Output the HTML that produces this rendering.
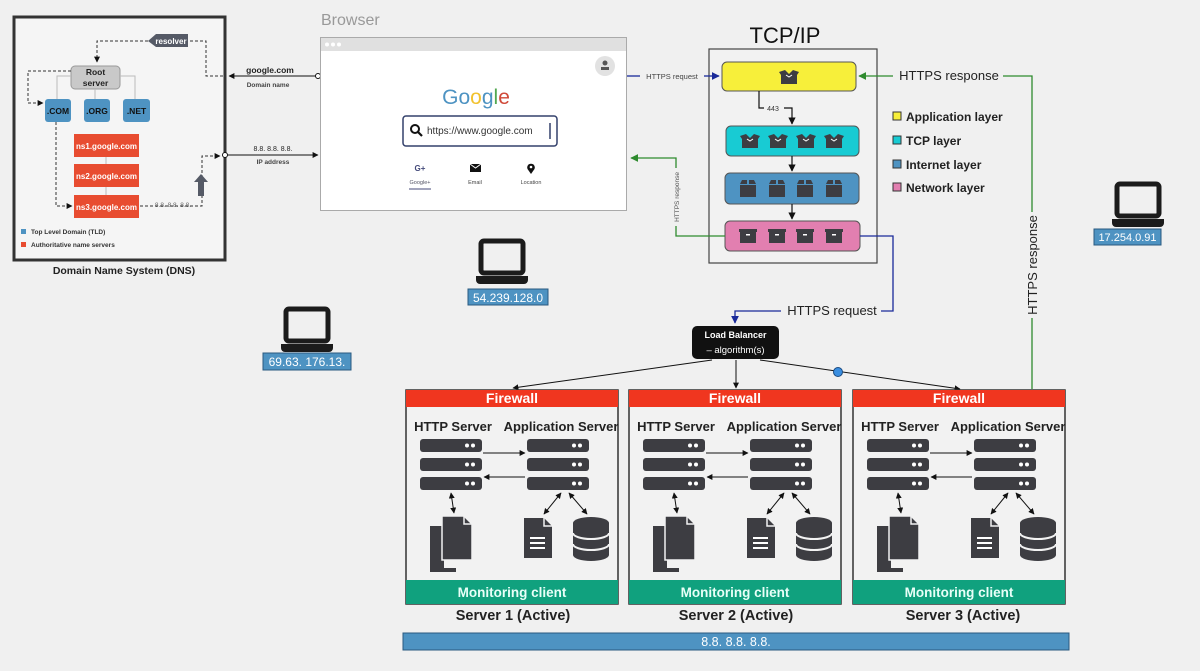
<!DOCTYPE html>
<html><head><meta charset="utf-8"><style>
html,body{margin:0;padding:0;background:#f0f0f0;}
svg{display:block;font-family:"Liberation Sans","DejaVu Sans",sans-serif;}
.b{font-weight:bold}
</style></head><body>
<svg width="1200" height="671" viewBox="0 0 1200 671" xmlns="http://www.w3.org/2000/svg">
<defs>
<marker id="ak" viewBox="0 0 10 10" refX="9" refY="5" markerWidth="6" markerHeight="6" orient="auto-start-reverse"><path d="M0,0L10,5L0,10z" fill="#111"/></marker>
<marker id="ab" viewBox="0 0 10 10" refX="9" refY="5" markerWidth="6" markerHeight="6" orient="auto"><path d="M0,0L10,5L0,10z" fill="#1a2a9a"/></marker>
<marker id="ag" viewBox="0 0 10 10" refX="9" refY="5" markerWidth="6" markerHeight="6" orient="auto"><path d="M0,0L10,5L0,10z" fill="#2e8b2e"/></marker>
<g id="rack">
<rect x="0" y="0" width="62" height="13" rx="3" fill="#3d3d42"/>
<rect x="0" y="19" width="62" height="13" rx="3" fill="#3d3d42"/>
<rect x="0" y="38" width="62" height="13" rx="3" fill="#3d3d42"/>
<circle cx="47" cy="6.5" r="2" fill="#fff"/><circle cx="53" cy="6.5" r="2" fill="#fff"/>
<circle cx="47" cy="25.5" r="2" fill="#fff"/><circle cx="53" cy="25.5" r="2" fill="#fff"/>
<circle cx="47" cy="44.5" r="2" fill="#fff"/><circle cx="53" cy="44.5" r="2" fill="#fff"/>
</g>
<g id="srv">
<rect x="0" y="0" width="212" height="214" fill="#f2f2f2" stroke="#333" stroke-width="1.5"/>
<rect x="0" y="0" width="212" height="17" fill="#f0361f"/>
<text x="106" y="13" font-size="14" class="b" fill="#fff" text-anchor="middle">Firewall</text>
<rect x="0" y="190" width="212" height="24" fill="#10a17e"/>
<text x="106" y="207" font-size="13.5" class="b" fill="#e8fff8" text-anchor="middle">Monitoring client</text>
<text x="47" y="41" font-size="13" class="b" fill="#222" text-anchor="middle">HTTP Server</text>
<text x="155" y="41" font-size="13" class="b" fill="#222" text-anchor="middle">Application Server</text>
<use href="#rack" x="14" y="49"/>
<use href="#rack" x="121" y="49"/>
<line x1="77" y1="63" x2="119" y2="63" stroke="#111" marker-end="url(#ak)"/>
<line x1="119" y1="87" x2="78" y2="87" stroke="#111" marker-end="url(#ak)"/>
<line x1="45" y1="103" x2="48" y2="123" stroke="#111" marker-start="url(#ak)" marker-end="url(#ak)"/>
<line x1="155" y1="103" x2="138" y2="124" stroke="#111" marker-start="url(#ak)" marker-end="url(#ak)"/>
<line x1="163" y1="103" x2="181" y2="124" stroke="#111" marker-start="url(#ak)" marker-end="url(#ak)"/>
<path d="M24,136h14v42h12v4h-26z" fill="#3d3d42"/>
<path d="M36,126h22l8,8v36h-30z" fill="#3d3d42" stroke="#f2f2f2" stroke-width="1.5"/>
<path d="M58,126v8h8" fill="none" stroke="#f2f2f2" stroke-width="1.5"/>
<path d="M118,128h20l8,8v32h-28z" fill="#3d3d42"/>
<path d="M138,128v8h8" fill="none" stroke="#f2f2f2" stroke-width="1.5"/>
<rect x="124" y="147" width="15" height="2" fill="#fff"/><rect x="124" y="152" width="15" height="2" fill="#fff"/><rect x="124" y="157" width="15" height="2" fill="#fff"/>
<ellipse cx="185" cy="133" rx="18" ry="6" fill="#3d3d42"/>
<rect x="167" y="133" width="36" height="32" fill="#3d3d42"/>
<ellipse cx="185" cy="165" rx="18" ry="6" fill="#3d3d42"/>
<path d="M167,143a18,6 0 0 0 36,0M167,154a18,6 0 0 0 36,0" fill="none" stroke="#f2f2f2" stroke-width="2"/>
</g>
<g id="lap">
<rect x="3" y="0" width="42" height="32" rx="3" fill="none" stroke="#1b1b1b" stroke-width="5"/>
<path d="M-2,35h52v4a4,4 0 0 1 -4,4h-44a4,4 0 0 1 -4,-4z" fill="#1b1b1b"/>
</g>
<g id="box"><path d="M0,3h16v11h-16z" fill="#3d3d42"/><rect x="-1" y="0" width="18" height="3" fill="#3d3d42"/><rect x="6" y="5" width="4" height="1.5" fill="#fff"/></g>
<g id="pk"><path d="M0,4h7v-4h-5zM9,4v-4h5l2,4zM0,5h16v12h-16z" fill="#3d3d42"/></g>
<g id="op"><path d="M0,6h16v9h-16z" fill="#3d3d42"/><path d="M0,6l-2,-3l6,-2l4,4l4,-4l6,2l-2,3z" fill="#3d3d42"/><path d="M5,6l3,2l3,-2" stroke="#fff" fill="none"/></g>
</defs>

<rect x="14" y="17" width="211" height="243" fill="#f5f5f5" stroke="#333" stroke-width="3"/>
<rect x="71" y="66" width="49" height="23" rx="4" fill="#c9c9c9" stroke="#999"/>
<text x="95.5" y="75" font-size="8.5" class="b" text-anchor="middle" fill="#222">Root</text>
<text x="95.5" y="86" font-size="8.5" class="b" text-anchor="middle" fill="#222">server</text>
<path d="M71,76H57V99M120,76H135V99M95,89V99" fill="none" stroke="#bbb"/>
<rect x="45" y="99" width="26" height="23" rx="3" fill="#4e93c2"/>
<rect x="84" y="99" width="26" height="23" rx="3" fill="#4e93c2"/>
<rect x="123" y="99" width="27" height="23" rx="3" fill="#4e93c2"/>
<text x="58" y="114" font-size="8.5" class="b" text-anchor="middle" fill="#111">.COM</text>
<text x="97" y="114" font-size="8.5" class="b" text-anchor="middle" fill="#111">.ORG</text>
<text x="136.5" y="114" font-size="8.5" class="b" text-anchor="middle" fill="#111">.NET</text>
<line x1="106" y1="157" x2="106" y2="195" stroke="#bbb"/>
<rect x="74" y="134" width="65" height="23" fill="#e84c30"/>
<rect x="74" y="164" width="65" height="23" fill="#e84c30"/>
<rect x="74" y="195" width="65" height="23" fill="#e84c30"/>
<text x="106.5" y="149" font-size="8" class="b" text-anchor="middle" fill="#fff">ns1.google.com</text>
<text x="106.5" y="179" font-size="8" class="b" text-anchor="middle" fill="#fff">ns2.google.com</text>
<text x="106.5" y="210" font-size="8" class="b" text-anchor="middle" fill="#fff">ns3.google.com</text>
<path d="M148,41l8,-7h32v13h-32z" fill="#555a66"/>
<text x="171" y="44" font-size="8" class="b" fill="#fff" text-anchor="middle">resolver</text>
<g fill="none" stroke="#333" stroke-dasharray="3,2" stroke-width="1">
<path d="M190,41H206V76H225"/>
<path d="M148,41H97V62" marker-end="url(#ak)"/>
<path d="M71,71H28V103H43" marker-end="url(#ak)"/>
<path d="M56,122V206H72" marker-end="url(#ak)"/>
<path d="M140,206H202V156H220" marker-end="url(#ak)"/>
</g>
<text x="173" y="207" font-size="6.5" fill="#666" text-anchor="middle">8.8. 8.8. 8.8.</text>
<path d="M198,196V182h-4l7,-8l7,8h-4v14z" fill="#555a66"/>
<rect x="21" y="229" width="5" height="5" fill="#4e93c2"/>
<text x="31" y="234" font-size="6.5" class="b" fill="#333">Top Level Domain (TLD)</text>
<rect x="21" y="242" width="5" height="5" fill="#e84c30"/>
<text x="31" y="247" font-size="6.5" class="b" fill="#333">Authoritative name servers</text>
<text x="124" y="274" font-size="10.5" class="b" fill="#222" text-anchor="middle">Domain Name System (DNS)</text>

<line x1="317" y1="76" x2="229" y2="76" stroke="#111" marker-end="url(#ak)"/>
<circle cx="318" cy="76" r="2.5" fill="#fff" stroke="#111"/>
<text x="270" y="73" font-size="8.5" class="b" fill="#222" text-anchor="middle">google.com</text>
<text x="268" y="87" font-size="6.5" class="b" fill="#444" text-anchor="middle">Domain name</text>
<line x1="226" y1="155" x2="318" y2="155" stroke="#111" marker-end="url(#ak)"/>
<circle cx="225" cy="155" r="2.5" fill="#fff" stroke="#111"/>
<text x="273" y="151" font-size="7" fill="#222" text-anchor="middle">8.8. 8.8. 8.8.</text>
<text x="273" y="164" font-size="6.5" class="b" fill="#444" text-anchor="middle">IP address</text>

<text x="321" y="25" font-size="16" fill="#999">Browser</text>
<rect x="320.5" y="37.5" width="306" height="173" fill="#fff" stroke="#aaa"/>
<rect x="321" y="38" width="305" height="13" fill="#e0e0e0"/>
<circle cx="327" cy="44.5" r="2" fill="#fff"/><circle cx="333" cy="44.5" r="2" fill="#fff"/><circle cx="339" cy="44.5" r="2" fill="#fff"/>
<circle cx="605" cy="66" r="10" fill="#e2e2e2"/>
<circle cx="605" cy="63" r="2.5" fill="#555"/><rect x="601" y="67" width="8" height="3" fill="#555"/>
<text x="476" y="104" font-size="21" text-anchor="middle"><tspan fill="#4e93c2">G</tspan><tspan fill="#4e93c2">o</tspan><tspan fill="#f2c22e">o</tspan><tspan fill="#4e93c2">g</tspan><tspan fill="#52a850">l</tspan><tspan fill="#d04a3a">e</tspan></text>
<rect x="403" y="116" width="154" height="30" rx="3" fill="#fff" stroke="#33406b" stroke-width="1.5"/>
<circle cx="415" cy="129" r="4" fill="none" stroke="#111" stroke-width="2"/><line x1="418" y1="132" x2="422" y2="136" stroke="#111" stroke-width="2.2"/>
<text x="427" y="134" font-size="10" fill="#333">https://www.google.com</text>
<line x1="550" y1="123" x2="550" y2="139" stroke="#33406b" stroke-width="1.5"/>
<text x="420" y="171" font-size="8" class="b" fill="#444a7a" text-anchor="middle">G+</text>
<text x="420" y="184" font-size="5.5" fill="#556" text-anchor="middle">Google+</text>
<line x1="409" y1="189" x2="431" y2="189" stroke="#444a7a"/>
<rect x="470" y="164" width="11" height="8" fill="#111"/><path d="M470,164l5.5,4l5.5,-4" stroke="#fff" fill="none"/>
<text x="475" y="184" font-size="5.5" fill="#444" text-anchor="middle">Email</text>
<path d="M531,174l-3.5,-5a3.8,3.8 0 1 1 7,0z" fill="#111"/><circle cx="531" cy="167" r="1.3" fill="#fff"/>
<text x="531" y="184" font-size="5.5" fill="#444" text-anchor="middle">Location</text>

<text x="785" y="43" font-size="22" fill="#111" text-anchor="middle">TCP/IP</text>
<rect x="709" y="49" width="168" height="214" fill="#f2f2f2" stroke="#444" stroke-width="1.2"/>
<rect x="722" y="62" width="134" height="29" rx="5" fill="#f7ef3a" stroke="#555"/>
<use href="#op" x="781" y="69"/>
<path d="M759,91V108H764" fill="none" stroke="#111" stroke-width="1.2"/>
<text x="773" y="111" font-size="7" fill="#333" text-anchor="middle">443</text>
<path d="M784,108H792V124" fill="none" stroke="#111" stroke-width="1.2" marker-end="url(#ak)"/>
<rect x="726" y="126" width="133" height="30" rx="5" fill="#18cbd3" stroke="#555"/>
<use href="#op" x="742" y="133"/><use href="#op" x="770" y="133"/><use href="#op" x="798" y="133"/><use href="#op" x="826" y="133"/>
<line x1="792" y1="156" x2="792" y2="171" stroke="#111" stroke-width="1.2" marker-end="url(#ak)"/>
<rect x="725" y="173" width="134" height="31" rx="5" fill="#4e93c2" stroke="#555"/>
<use href="#pk" x="740" y="180"/><use href="#pk" x="769" y="180"/><use href="#pk" x="797" y="180"/><use href="#pk" x="826" y="180"/>
<line x1="792" y1="204" x2="792" y2="219" stroke="#111" stroke-width="1.2" marker-end="url(#ak)"/>
<rect x="725" y="221" width="135" height="30" rx="5" fill="#e27fb0" stroke="#555"/>
<use href="#box" x="740" y="229"/><use href="#box" x="769" y="229"/><use href="#box" x="797" y="229"/><use href="#box" x="826" y="229"/>
<rect x="893" y="112" width="8" height="8" fill="#f7ef3a" stroke="#333"/>
<text x="906" y="121" font-size="12" class="b" fill="#222">Application layer</text>
<rect x="893" y="136" width="8" height="8" fill="#18cbd3" stroke="#333"/>
<text x="906" y="145" font-size="12" class="b" fill="#222">TCP layer</text>
<rect x="893" y="160" width="8" height="8" fill="#4e93c2" stroke="#333"/>
<text x="906" y="169" font-size="12" class="b" fill="#222">Internet layer</text>
<rect x="893" y="183" width="8" height="8" fill="#e27fb0" stroke="#333"/>
<text x="906" y="192" font-size="12" class="b" fill="#222">Network layer</text>

<path d="M627,76H640" fill="none" stroke="#1a2a9a" stroke-width="1.3"/>
<line x1="704" y1="76" x2="719" y2="76" stroke="#1a2a9a" stroke-width="1.3" marker-end="url(#ab)"/>
<text x="672" y="79" font-size="7.5" fill="#444" text-anchor="middle">HTTPS request</text>
<path d="M725,236H676V158H631" fill="none" stroke="#2e8b2e" stroke-width="1.3" marker-end="url(#ag)"/>
<rect x="671" y="168" width="10" height="58" fill="#f0f0f0"/>
<text transform="translate(679,197) rotate(-90)" font-size="6.5" fill="#555" text-anchor="middle">HTTPS response</text>
<path d="M1032,389V76H859" fill="none" stroke="#2e8b2e" stroke-width="1.3" marker-end="url(#ag)"/>
<rect x="893" y="68" width="110" height="14" fill="#f0f0f0"/>
<text x="949" y="80" font-size="13" fill="#222" text-anchor="middle">HTTPS response</text>
<rect x="1024" y="212" width="16" height="106" fill="#f0f0f0"/>
<text transform="translate(1037,265) rotate(-90)" font-size="13" fill="#222" text-anchor="middle">HTTPS response</text>
<path d="M860,236H893V311H735V323" fill="none" stroke="#1a2a9a" stroke-width="1.3" marker-end="url(#ab)"/>
<rect x="781" y="302" width="100" height="16" fill="#f0f0f0"/>
<text x="832" y="315" font-size="13" fill="#222" text-anchor="middle">HTTPS request</text>

<rect x="692" y="326" width="87" height="33" rx="5" fill="#111"/>
<text x="735.5" y="338" font-size="9" class="b" fill="#fff" text-anchor="middle">Load Balancer</text>
<text x="735.5" y="353" font-size="9.5" fill="#fff" text-anchor="middle">– algorithm(s)</text>
<line x1="712" y1="360" x2="513" y2="388" stroke="#111" marker-end="url(#ak)"/>
<line x1="736" y1="360" x2="736" y2="388" stroke="#111" marker-end="url(#ak)"/>
<line x1="760" y1="360" x2="960" y2="389" stroke="#111" marker-end="url(#ak)"/>
<circle cx="838" cy="372" r="4.5" fill="#3a8ee0" stroke="#1a4a80"/>

<use href="#lap" x="478" y="241"/>
<rect x="468" y="289" width="80" height="16" fill="#4e93c2" stroke="#2a5a80"/>
<text x="508" y="302" font-size="12" fill="#fff" text-anchor="middle">54.239.128.0</text>
<use href="#lap" x="283" y="309"/>
<rect x="263" y="353" width="88" height="17" fill="#4e93c2" stroke="#2a5a80"/>
<text x="307" y="366" font-size="12" fill="#fff" text-anchor="middle">69.63. 176.13.</text>
<use href="#lap" x="1114" y="184"/>
<rect x="1094" y="229" width="67" height="16" fill="#4e93c2" stroke="#2a5a80"/>
<text x="1127.5" y="241" font-size="11" fill="#fff" text-anchor="middle">17.254.0.91</text>

<use href="#srv" x="406" y="390"/>
<use href="#srv" x="629" y="390"/>
<use href="#srv" x="853" y="390"/>
<text x="513" y="620" font-size="14.5" class="b" fill="#222" text-anchor="middle">Server 1 (Active)</text>
<text x="736" y="620" font-size="14.5" class="b" fill="#222" text-anchor="middle">Server 2 (Active)</text>
<text x="963" y="620" font-size="14.5" class="b" fill="#222" text-anchor="middle">Server 3 (Active)</text>
<rect x="403" y="633" width="666" height="17" fill="#4e93c2" stroke="#2a5a80"/>
<text x="736" y="646" font-size="12.5" fill="#fff" text-anchor="middle">8.8. 8.8. 8.8.</text>
</svg>
</body></html>
